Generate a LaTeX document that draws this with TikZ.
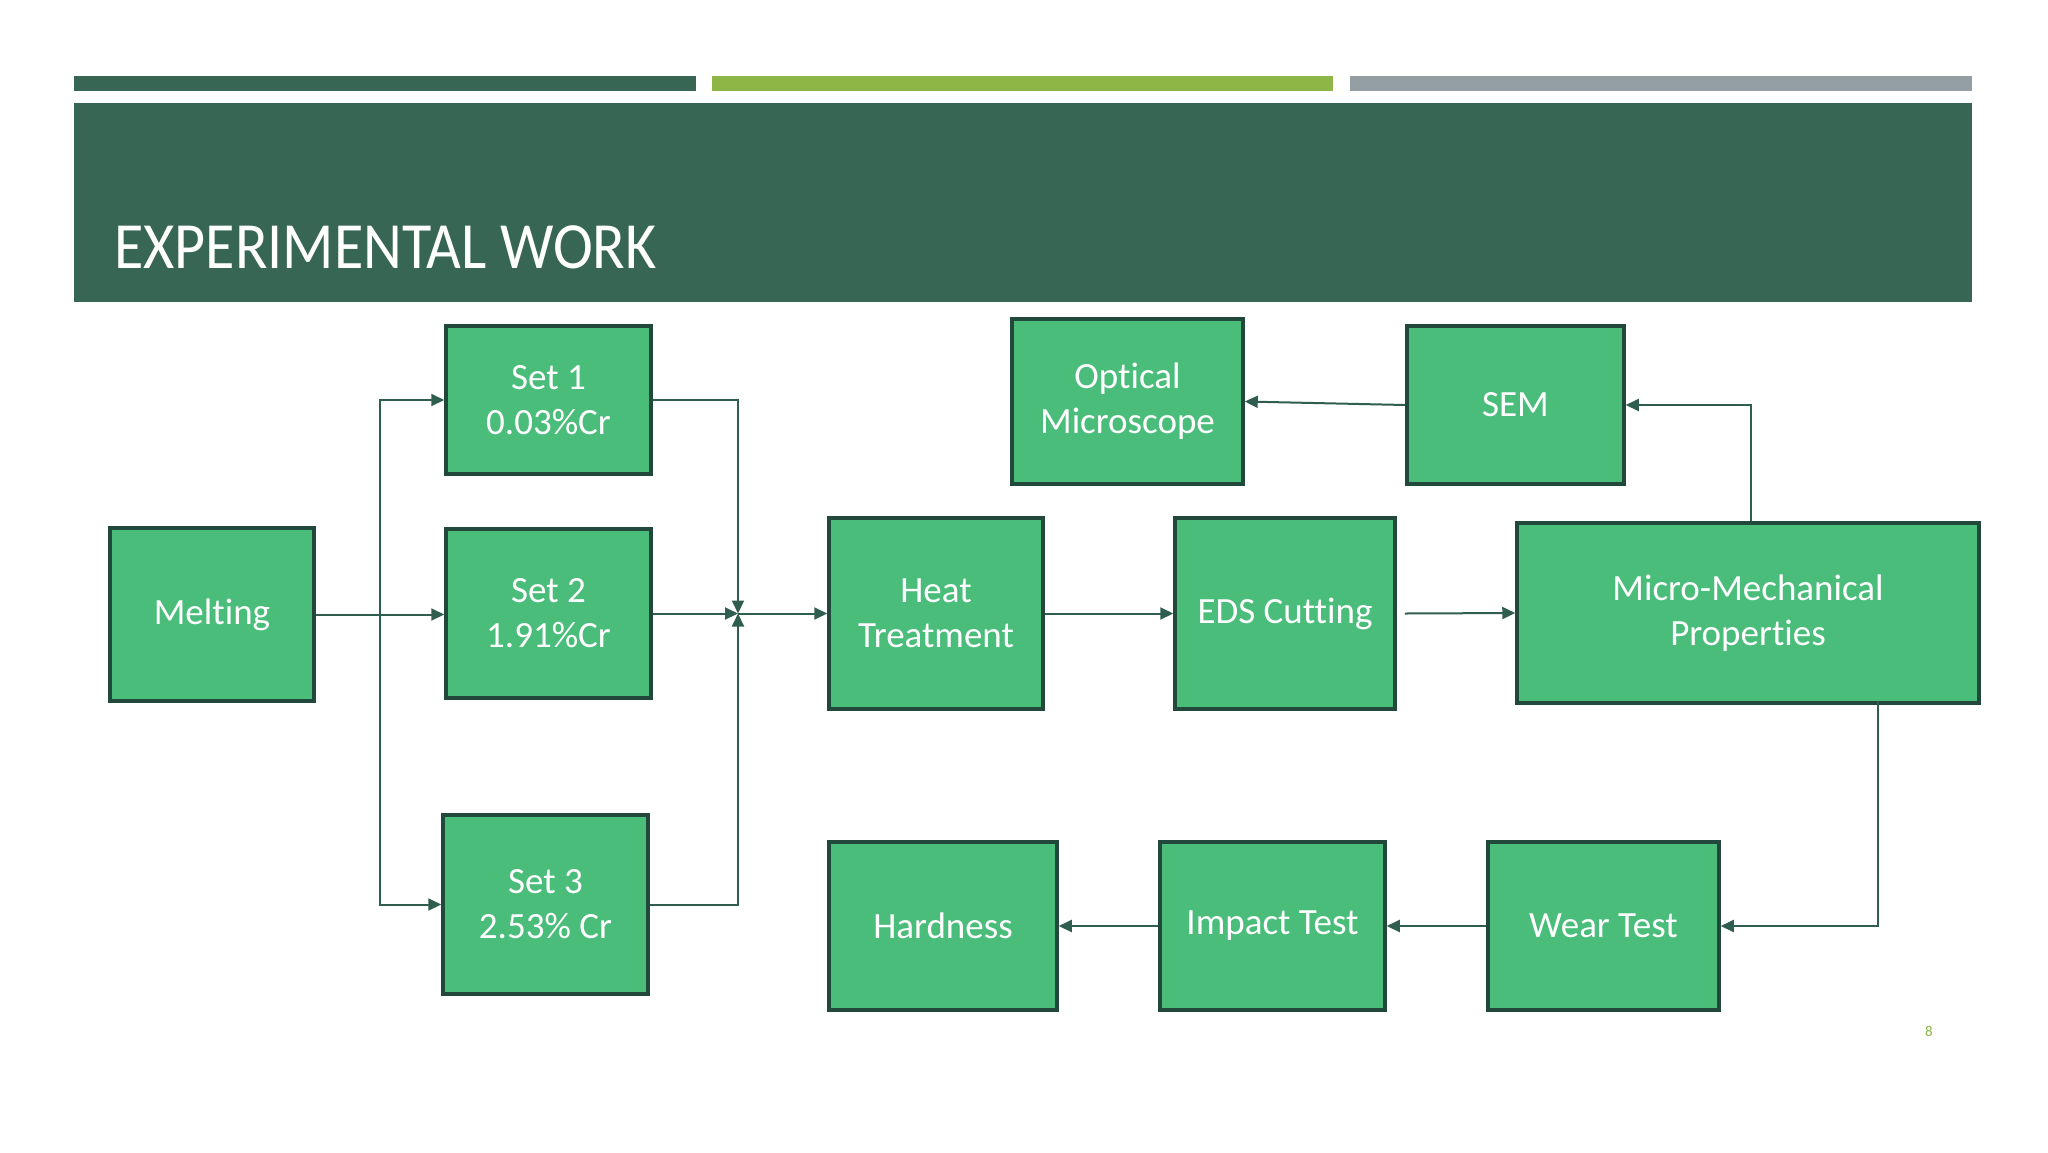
\documentclass[tikz,border=0pt]{standalone}
\usepackage{fontspec}
\setmainfont[RawFeature={-liga;-clig;-calt;-dlig}]{Carlito}
\newfontfamily\titlefont[FakeStretch=0.91,RawFeature={-liga;-clig;-calt;-dlig}]{Carlito}
\usetikzlibrary{arrows.meta}
\definecolor{band}{HTML}{376654}
\definecolor{barg}{HTML}{8DB646}
\definecolor{bargr}{HTML}{949FA4}
\definecolor{boxfill}{HTML}{4ABD7B}
\definecolor{boxline}{HTML}{22483B}
\definecolor{conn}{HTML}{2F5E50}
\tikzset{
  stepbox/.style={draw=boxline, line width=3.5pt, fill=boxfill, text=white,
    align=center, inner sep=0pt, font=\fontsize{37}{45}\selectfont},
  arr/.style={draw=conn, line width=2pt, -{Triangle[length=13pt,width=12pt]}},
  ln/.style={draw=conn, line width=2pt}
}
\begin{document}
\begin{tikzpicture}[x=1pt,y=-1pt]
\useasboundingbox (0,0) rectangle (2048,1152);
\fill[white] (0,0) rectangle (2048,1152);
% top bars
\fill[band] (74,76) rectangle (696,91);
\fill[barg] (712,76) rectangle (1333,91);
\fill[bargr] (1350,76) rectangle (1972,91);
% title band
\fill[band] (74,103) rectangle (1972,302);
\node[anchor=base west, text=white, inner sep=0pt, font=\titlefont\fontsize{66}{70}\selectfont] (title) at (114,268) {EXPERIMENTAL WORK};
% nodes
\node[stepbox, minimum width=204pt, minimum height=173pt] (melt) at (212,614.5) {Melting};
\node[stepbox, minimum width=205pt, minimum height=148pt] (set1) at (548.5,400) {Set 1\\0.03\%Cr};
\node[stepbox, minimum width=205pt, minimum height=169pt] (set2) at (548.5,613.5) {Set 2\\1.91\%Cr};
\node[stepbox, minimum width=205pt, minimum height=179pt] (set3) at (545.5,904.5) {Set 3\\2.53\% Cr};
\node[stepbox, minimum width=214pt, minimum height=191pt] (heat) at (936,613.5) {Heat\\Treatment};
\node[stepbox, minimum width=220pt, minimum height=191pt] (eds) at (1285,613.5) {EDS Cutting};
\node[stepbox, minimum width=462pt, minimum height=180pt] (micro) at (1748,613) {Micro-Mechanical\\Properties};
\node[stepbox, minimum width=231pt, minimum height=165pt] (opt) at (1127.5,401.5) {Optical\\Microscope};
\node[stepbox, minimum width=217pt, minimum height=158pt] (sem) at (1515.5,405) {SEM};
\node[stepbox, minimum width=228pt, minimum height=168pt] (hard) at (943,926) {Hardness};
\node[stepbox, minimum width=225pt, minimum height=168pt] (imp) at (1272.5,926) {Impact Test};
\node[stepbox, minimum width=231pt, minimum height=168pt] (wear) at (1603.5,926) {Wear Test};
% bus coordinates
\coordinate (busL) at (380,613.5);
\coordinate (busR) at (738,613.5);
% connectors
\draw[arr] (melt.east) -- (melt.east -| set2.west);
\draw[arr] (busL) |- (set1.west);
\draw[arr] (busL) |- (set3.west);
\draw[arr] (set1.east) -| (busR);
\draw[arr] (set3.east) -| (busR);
\draw[arr] (set2.east) -- (busR);
\draw[arr] (busR) -- (heat.west);
\draw[arr] (heat.east) -- (eds.west);
\draw[arr] ([xshift=8pt]eds.east) -- (micro.west);
\draw[arr] ([xshift=3pt]micro.north) |- (sem.east);
\draw[arr] (sem.west) -- (opt.east);
\draw[arr] ([xshift=130pt,yshift=4pt]micro.south) |- (wear.east);
\draw[arr] (wear.west) -- (imp.east);
\draw[arr] (imp.west) -- (hard.east);
% page number
\node[text=barg, font=\fontsize{15}{18}\selectfont, inner sep=0pt] (pnum) at (1929,1031) {8};
\end{tikzpicture}
\end{document}
